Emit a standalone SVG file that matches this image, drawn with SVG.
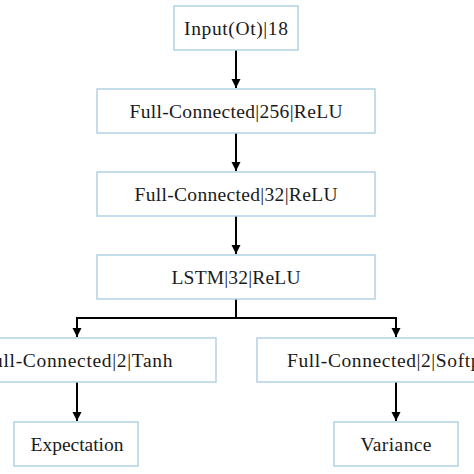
<svg xmlns="http://www.w3.org/2000/svg" width="474" height="474" viewBox="0 0 474 474">
<defs>
<style>
.box{fill:#fff;stroke:#b3d2e4;stroke-width:1.5}
.t{font-family:"Liberation Serif","Times New Roman",serif;font-size:19.5px;fill:#1a1a1a;text-anchor:middle}
.c{fill:none;stroke:#000;stroke-width:2}
</style>
<marker id="ah" markerWidth="10" markerHeight="10" refX="9" refY="5" orient="auto" markerUnits="userSpaceOnUse">
<path d="M0,0.5 L9,5 L0,9.5 Z" fill="#000"/>
</marker>
</defs>
<rect width="474" height="474" fill="#fff"/>
<g id="connectors">
<path class="c" d="M236,50 V88" marker-end="url(#ah)"/>
<path class="c" d="M236,133 V171" marker-end="url(#ah)"/>
<path class="c" d="M236,216 V254" marker-end="url(#ah)"/>
<path class="c" d="M236,299 V318"/>
<path class="c" d="M76,318 H397"/>
<path class="c" d="M77,318 V337" marker-end="url(#ah)"/>
<path class="c" d="M396,318 V337" marker-end="url(#ah)"/>
<path class="c" d="M77,382 V421" marker-end="url(#ah)"/>
<path class="c" d="M396,382 V421" marker-end="url(#ah)"/>
</g>
<g id="input">
<rect class="box" x="174" y="6" width="124" height="44"/>
<text class="t" x="236" y="34.5" textLength="104" lengthAdjust="spacing">Input(Ot)|18</text>
</g>
<g id="fc256">
<rect class="box" x="97" y="89" width="278" height="44"/>
<text class="t" x="236" y="117.5" textLength="213" lengthAdjust="spacing">Full-Connected|256|ReLU</text>
</g>
<g id="fc32">
<rect class="box" x="97" y="172" width="278" height="44"/>
<text class="t" x="236" y="200.5" textLength="203" lengthAdjust="spacing">Full-Connected|32|ReLU</text>
</g>
<g id="lstm">
<rect class="box" x="97" y="255" width="278" height="44"/>
<text class="t" x="236" y="283.5" textLength="129" lengthAdjust="spacing">LSTM|32|ReLU</text>
</g>
<g id="fc2tanh">
<rect class="box" x="-62" y="338" width="278" height="44"/>
<text class="t" x="77" y="366.5" textLength="191" lengthAdjust="spacing">Full-Connected|2|Tanh</text>
</g>
<g id="fc2softplus">
<rect class="box" x="257" y="338" width="278" height="44"/>
<text class="t" x="396" y="366.5" textLength="218" lengthAdjust="spacing">Full-Connected|2|Softplus</text>
</g>
<g id="expectation">
<rect class="box" x="14" y="422" width="124" height="44"/>
<text class="t" x="77" y="450.5" textLength="93" lengthAdjust="spacing">Expectation</text>
</g>
<g id="variance">
<rect class="box" x="334" y="422" width="124" height="44"/>
<text class="t" x="396" y="450.5" textLength="71" lengthAdjust="spacing">Variance</text>
</g>
</svg>
